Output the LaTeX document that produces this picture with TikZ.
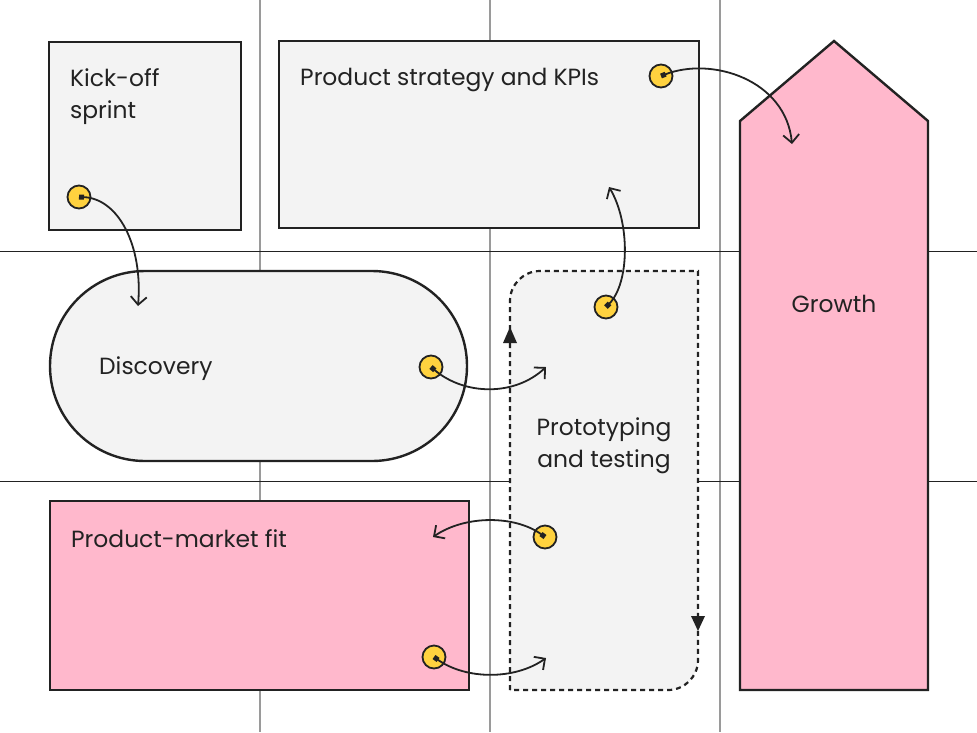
\documentclass[tikz,border=0pt]{standalone}
\usepackage{fontspec}
\setmainfont{Poppins}
\usetikzlibrary{arrows.meta}
\definecolor{ink}{HTML}{222222}
\definecolor{boxfill}{HTML}{F3F3F3}
\definecolor{pinkfill}{HTML}{FFB8CC}
\definecolor{dotfill}{HTML}{FFD23F}
\definecolor{gridgray}{HTML}{9A9A9A}
\tikzset{
  gridv/.style={draw=gridgray, line width=1.6pt},
  gridh/.style={draw=ink, line width=1pt},
  box/.style={draw=ink, line width=2.4pt, fill=boxfill, rectangle, inner sep=0pt},
  pinkbox/.style={box, fill=pinkfill},
  lbl/.style={text=ink, inner sep=0pt, font=\fontsize{23.4}{32}\selectfont},
  dotnode/.style={circle, draw=ink, fill=dotfill, line width=1.8pt, minimum size=23pt, inner sep=0pt},
  conn/.style={draw=ink, line width=1.8pt, {Square[length=5pt,width=5pt]}-{Straight Barb[length=8pt,width=16pt]}},
  dashline/.style={draw=ink, line width=2.2pt, dash pattern=on 5pt off 4pt},
  midtip/.style={fill=ink}
}
\begin{document}
\begin{tikzpicture}[x=1pt,y=-1pt]
\useasboundingbox (0,0) rectangle (977,732);
\fill[white] (0,0) rectangle (977,732);
% grid
\draw[gridv] (260,0) -- (260,732);
\draw[gridv] (490,0) -- (490,732);
\draw[gridv] (720,0) -- (720,732);
\draw[gridh] (0,251) -- (977,251);
\draw[gridh] (0,481) -- (977,481);
% boxes
\node[box, minimum width=192pt, minimum height=188pt] (kick) at (145,136) {};
\node[box, minimum width=420pt, minimum height=187pt] (strat) at (489,134.5) {};
\node[box, rounded corners=95pt, minimum width=417pt, minimum height=190pt] (disc) at (258.5,366) {};
\node[pinkbox, minimum width=419pt, minimum height=189pt] (pmf) at (259.5,595.5) {};
% growth arrow shape
\draw[draw=ink, line width=2.4pt, fill=pinkfill, line join=miter]
  (740,690) -- (740,121) -- (834,41) -- (928,121) -- (928,690) -- cycle;
\node[lbl] (growth) at (834,304) {Growth};
% prototyping dashed box
\fill[boxfill] (510,690) -- (510,301) arc[start angle=180,end angle=270,radius=30] -- (698,271) -- (698,660) arc[start angle=0,end angle=90,radius=30] -- cycle;
\draw[dashline] (510,690) -- (510,301) arc[start angle=180,end angle=270,radius=30] -- (698,271) -- (698,660) arc[start angle=0,end angle=90,radius=30] -- cycle;
\fill[midtip] (510,327) -- (503,343) -- (517,343) -- cycle;
\fill[midtip] (698,631) -- (691,616) -- (705,616) -- cycle;
\node[lbl, align=center] (proto) at (604,446) {Prototyping\\and testing};
% labels
\node[lbl, anchor=west, align=left] (kicklbl) at (70,97) {Kick-off\\sprint};
\node[lbl, anchor=west] (stratlbl) at (300,80) {Product strategy and KPIs};
\node[lbl, anchor=west] (disclbl) at (99,369) {Discovery};
\node[lbl, anchor=west] (pmflbl) at (71,539) {Product-market fit};
% dots
\node[dotnode] (d1) at (79,197) {};
\node[dotnode] (d2) at (661,76) {};
\node[dotnode] (d3) at (431,367) {};
\node[dotnode] (d4) at (606,307) {};
\node[dotnode] (d5) at (545,537) {};
\node[dotnode] (d6) at (434,657) {};
% arrow ends
\coordinate (e1) at (138,306);
\coordinate (e2) at (792,144);
\coordinate (e3) at (546,367);
\coordinate (e4) at (609,187);
\coordinate (e5) at (433,537);
\coordinate (e6) at (546,658);
% connectors
\draw[conn] (d1.center) .. controls (118,198) and (143,245) .. (e1);
\draw[conn] (d2.center) .. controls (712,56) and (786,80) .. (e2);
\draw[conn] (d3.center) .. controls (465,396) and (515,396) .. (e3);
\draw[conn] (d4.center) .. controls (630,283) and (630,222) .. (e4);
\draw[conn] (d5.center) .. controls (515,515) and (465,515) .. (e5);
\draw[conn] (d6.center) .. controls (466,680) and (515,680) .. (e6);
\end{tikzpicture}
\end{document}
